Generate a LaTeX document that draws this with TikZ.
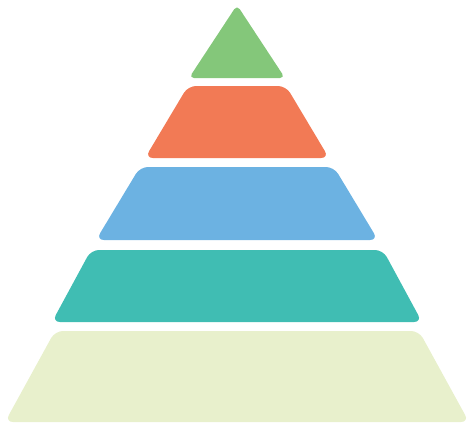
\documentclass[tikz,border=0pt]{standalone}
\usepackage{tikz}
\definecolor{tiergreen}{HTML}{84C77A}
\definecolor{tierorange}{HTML}{F27A55}
\definecolor{tierblue}{HTML}{6CB2E2}
\definecolor{tierteal}{HTML}{40BDB3}
\definecolor{tierbeige}{HTML}{E8F0CC}
\begin{document}
\begin{tikzpicture}[x=1pt,y=-1pt]
    \useasboundingbox (0,0) rectangle (474,429);
    % top tier
    \fill[tiergreen, rounded corners=5pt]
        (237,5) -- (285,78) -- (189,78) -- cycle;
    % lower tiers: colour/top/bottom/top half width/bottom half width
    \foreach \col/\ty/\by/\tw/\bw in {%
        tierorange/86/158/49/92,
        tierblue/167/240/97/141,
        tierteal/250/322/146/185,
        tierbeige/331/422/182/232%
    }{
        \fill[\col, rounded corners=8pt]
            (237-\tw,\ty) -- (237+\tw,\ty) -- (237+\bw,\by)
            -- (237-\bw,\by) -- cycle;
    }
\end{tikzpicture}
\end{document}
